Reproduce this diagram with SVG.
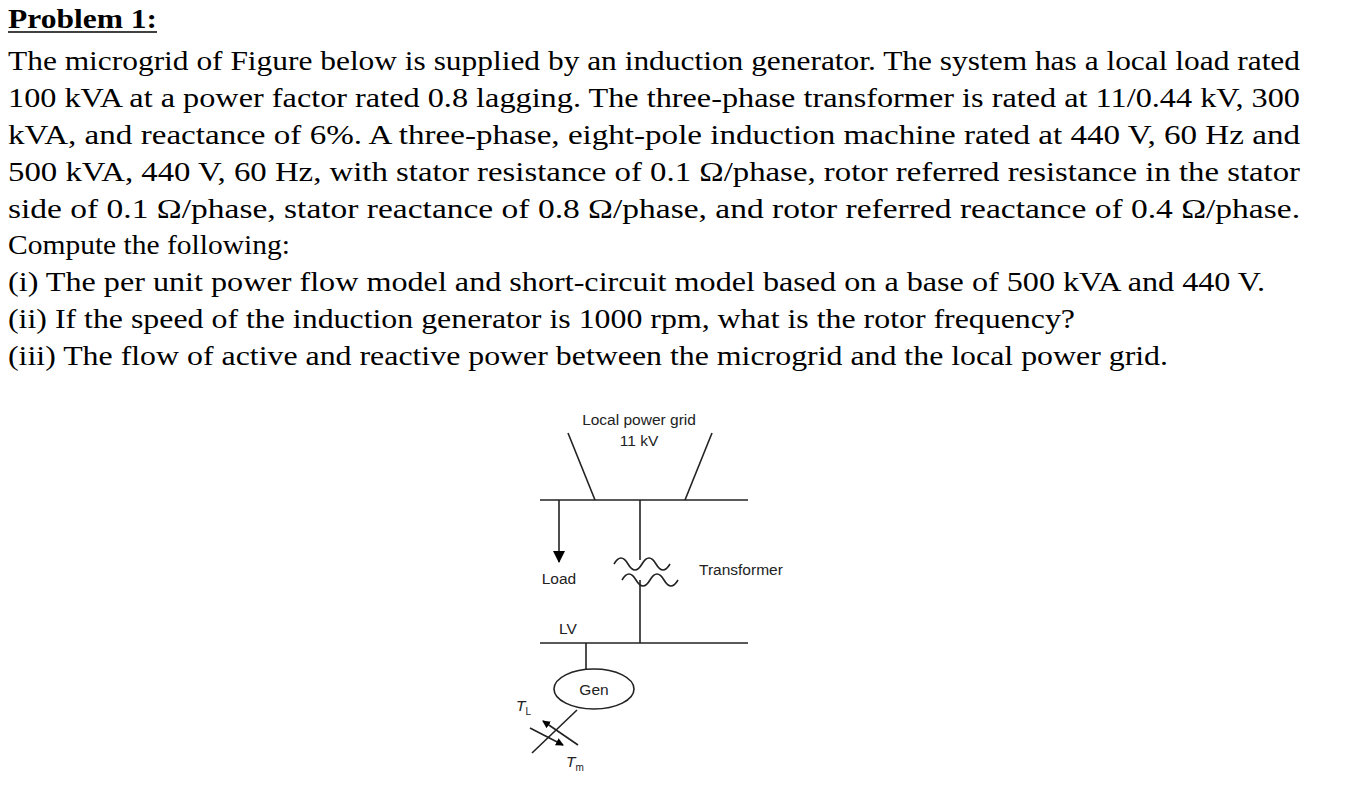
<svg xmlns="http://www.w3.org/2000/svg" width="1346" height="788" viewBox="0 0 1346 788">
<defs><marker id="ah" markerWidth="8" markerHeight="8" refX="7" refY="4" orient="auto" markerUnits="userSpaceOnUse"><path d="M0,0 L8,4 L0,8 z" fill="#000"/></marker>
<marker id="ahb" markerWidth="12" markerHeight="14" refX="11" refY="6" orient="auto" markerUnits="userSpaceOnUse"><path d="M0,0 L12,6 L0,12 z" fill="#000"/></marker></defs>
<style>.t{font-family:"Liberation Serif",serif;font-size:28px;fill:#000}.d{font-family:"Liberation Sans",sans-serif;font-size:15.5px;fill:#222}.l{stroke:#222;stroke-width:1.6;fill:none}</style>
<rect width="1346" height="788" fill="#fff"/>
<g id="text">
<text class="t" x="8" y="28" font-weight="bold" textLength="149" lengthAdjust="spacingAndGlyphs">Problem 1:</text>
<line x1="8" y1="32" x2="157" y2="32" stroke="#000" stroke-width="1.6"/>
<text class="t" x="8" y="70" textLength="1292" lengthAdjust="spacingAndGlyphs">The microgrid of Figure below is supplied by an induction generator. The system has a local load rated</text>
<text class="t" x="8" y="107" textLength="1292" lengthAdjust="spacingAndGlyphs">100 kVA at a power factor rated 0.8 lagging. The three-phase transformer is rated at 11/0.44 kV, 300</text>
<text class="t" x="8" y="144" textLength="1292" lengthAdjust="spacingAndGlyphs">kVA, and reactance of 6%. A three-phase, eight-pole induction machine rated at 440 V, 60 Hz and</text>
<text class="t" x="8" y="181" textLength="1292" lengthAdjust="spacingAndGlyphs">500 kVA, 440 V, 60 Hz, with stator resistance of 0.1 Ω/phase, rotor referred resistance in the stator</text>
<text class="t" x="8" y="218" textLength="1292" lengthAdjust="spacingAndGlyphs">side of 0.1 Ω/phase, stator reactance of 0.8 Ω/phase, and rotor referred reactance of 0.4 Ω/phase.</text>
<text class="t" x="8" y="254" textLength="282" lengthAdjust="spacingAndGlyphs">Compute the following:</text>
<text class="t" x="8" y="291" textLength="1257" lengthAdjust="spacingAndGlyphs">(i) The per unit power flow model and short-circuit model based on a base of 500 kVA and 440 V.</text>
<text class="t" x="8" y="328" textLength="1067" lengthAdjust="spacingAndGlyphs">(ii) If the speed of the induction generator is 1000 rpm, what is the rotor frequency?</text>
<text class="t" x="8" y="365" textLength="1160" lengthAdjust="spacingAndGlyphs">(iii) The flow of active and reactive power between the microgrid and the local power grid.</text>
</g>
<g id="grid"><text class="d" x="639" y="425" text-anchor="middle">Local power grid</text><text class="d" x="639" y="446" text-anchor="middle">11 kV</text></g>
<g id="hvbus"><line class="l" x1="540" y1="500" x2="748" y2="500"/></g>
<g id="lvbus"><line class="l" x1="540" y1="643" x2="748" y2="643"/><text class="d" x="568" y="634" text-anchor="middle">LV</text></g>
<g id="load"><text class="d" x="559" y="584" text-anchor="middle">Load</text></g>
<g id="transformer">
<path class="l" d="M614,564 q7,-12 14,0 t14,0 t14,0 t14,0"/>
<path class="l" d="M622,580 q7,-12 14,0 t14,0 t14,0 t14,0"/>
<text class="d" x="699" y="575">Transformer</text></g>
<g id="gen"><ellipse class="l" cx="594" cy="689" rx="40" ry="20"/><text class="d" x="594" y="695" text-anchor="middle">Gen</text>
<text class="d" x="516" y="711" font-style="italic">T<tspan font-size="10" font-style="normal" dy="4">L</tspan></text>
<text class="d" x="566" y="767" font-style="italic">T<tspan font-size="10" font-style="normal" dy="4">m</tspan></text></g>
<g id="connectors">
<line class="l" x1="568" y1="433" x2="595" y2="500"/>
<line class="l" x1="712" y1="433" x2="685" y2="500"/>
<line class="l" x1="559" y1="500" x2="559" y2="562" marker-end="url(#ahb)"/>
<line class="l" x1="640" y1="500" x2="640" y2="560"/>
<line class="l" x1="640" y1="580" x2="640" y2="643"/>
<line class="l" x1="586" y1="643" x2="586" y2="669"/>
<line class="l" x1="577" y1="710" x2="532" y2="753"/>
<line class="l" x1="530" y1="728" x2="563" y2="745" marker-end="url(#ah)"/>
<line class="l" x1="578" y1="745" x2="543" y2="721" marker-end="url(#ah)"/>
</g>
</svg>
